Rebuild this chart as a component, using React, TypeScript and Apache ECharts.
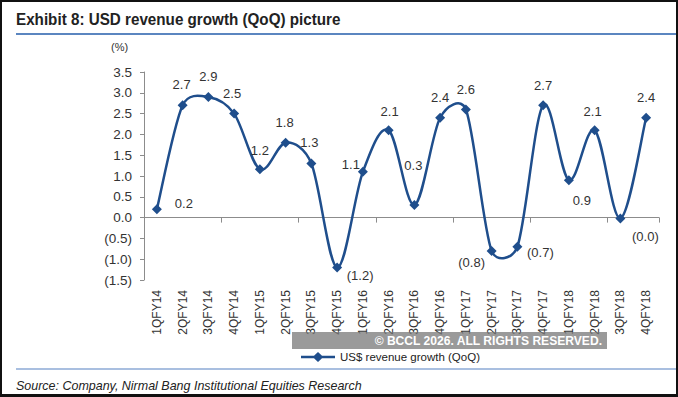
import React, { useEffect, useRef } from "react";
import * as echarts from "echarts";

const categories = [
  "1QFY14", "2QFY14", "3QFY14", "4QFY14", "1QFY15", "2QFY15", "3QFY15", "4QFY15",
  "1QFY16", "2QFY16", "3QFY16", "4QFY16", "1QFY17", "2QFY17", "3QFY17", "4QFY17",
  "1QFY18", "2QFY18", "3QFY18", "4QFY18",
];
const growth = [0.2, 2.7, 2.9, 2.5, 1.16, 1.8, 1.3, -1.2, 1.1, 2.1, 0.3, 2.4, 2.6, -0.8, -0.7, 2.7, 0.9, 2.1, -0.02, 2.4];
const labelOffsets: number[][] = [
  [27, -6], [-1, -21], [0, -20], [-2, -20], [0, -19], [-1, -20], [-2, -21], [23, 8],
  [-12, -7], [1, -19], [-1, -40], [0, -20], [0, -20], [-20, 12], [23, 6], [0, -20],
  [13, 20], [-2, -19], [25, 18], [0, -20],
];

const FONT = "'Liberation Sans', Arial, sans-serif";
const LINE = "#1f4e8c";
const LEGEND_ICON = "path://M0,3.8h13l4,-3.8l4,3.8h13v2.4h-13l-4,3.8l-4,-3.8h-13z";
const SERIES_NAME = "US$ revenue growth (QoQ)";

const fmt = (v: number) => {
  const s = Math.abs(v).toFixed(1);
  return v < 0 ? `(${s})` : s;
};

// Excel-like smooth curve through pixel points
function smoothPath(pts: number[][]): string {
  const n = pts.length;
  let d = `M${pts[0][0]},${pts[0][1]}`;
  for (let i = 0; i < n - 1; i++) {
    const p0 = pts[i - 1] || pts[i];
    const p1 = pts[i];
    const p2 = pts[i + 1];
    const p3 = pts[i + 2] || pts[i + 1];
    const seg = Math.hypot(p2[0] - p1[0], p2[1] - p1[1]);
    const t1x = p2[0] - p0[0], t1y = p2[1] - p0[1];
    const l1 = Math.hypot(t1x, t1y);
    const k1 = l1 > 0 ? Math.min(1 / 6, seg / 2 / l1) : 0;
    const t2x = p3[0] - p1[0], t2y = p3[1] - p1[1];
    const l2 = Math.hypot(t2x, t2y);
    const k2 = l2 > 0 ? Math.min(1 / 6, seg / 2 / l2) : 0;
    const c1 = [p1[0] + t1x * k1, p1[1] + t1y * k1];
    const c2 = [p2[0] - t2x * k2, p2[1] - t2y * k2];
    d += ` C${c1[0]},${c1[1]} ${c2[0]},${c2[1]} ${p2[0]},${p2[1]}`;
  }
  return d;
}

export default function App() {
  const ref = useRef<HTMLDivElement>(null);
  useEffect(() => {
    document.body.style.margin = "0";
    const chart = echarts.init(ref.current!, undefined, { renderer: "svg" });
    chart.setOption({
      animation: false,
      backgroundColor: "transparent",
      textStyle: { fontFamily: FONT },
      grid: { left: 144, right: 19, top: 72, bottom: 117, containLabel: false },
      xAxis: [
        {
          type: "category",
          data: categories,
          boundaryGap: true,
          axisLine: { onZero: true, lineStyle: { color: "#8c8c8c", width: 1 } },
          axisTick: { show: true, length: 5, lineStyle: { color: "#8c8c8c" } },
          axisLabel: { show: false },
        },
        {
          type: "category",
          data: categories,
          position: "bottom",
          boundaryGap: true,
          axisLine: { show: false, onZero: false },
          axisTick: { show: false },
          axisLabel: {
            rotate: 90,
            interval: 0,
            margin: 10,
            fontSize: 12,
            color: "#333",
            fontFamily: FONT,
          },
        },
      ],
      yAxis: {
        type: "value",
        min: -1.5,
        max: 3.5,
        interval: 0.5,
        splitLine: { show: false },
        axisLine: { show: true, lineStyle: { color: "#8c8c8c" } },
        axisTick: { show: true, length: 4, lineStyle: { color: "#8c8c8c" } },
        axisLabel: { formatter: fmt, fontSize: 13.5, color: "#333", margin: 12, fontFamily: FONT },
      },
      legend: {
        left: 301,
        top: 351,
        padding: 0,
        itemWidth: 34,
        itemHeight: 10,
        icon: LEGEND_ICON,
        itemStyle: { color: LINE, opacity: 1 },
        textStyle: { fontSize: 11.5, color: "#222", fontFamily: FONT },
        data: [{ name: SERIES_NAME }],
      },
      series: [
        {
          type: "custom",
          name: "curve",
          xAxisIndex: 0,
          z: 1,
          silent: true,
          data: growth.map((v, i) => [i, v]),
          encode: { x: 0, y: 1 },
          renderItem: (params: any, api: any) => {
            if (params.dataIndex !== 0) return null;
            const pts = growth.map((v, i) => api.coord([i, v]));
            return {
              type: "path",
              shape: { pathData: smoothPath(pts) },
              style: { stroke: LINE, lineWidth: 2.5, fill: "none" },
            };
          },
        },
        {
          name: SERIES_NAME,
          type: "line",
          xAxisIndex: 0,
          z: 2,
          symbol: "diamond",
          symbolSize: 10,
          lineStyle: { color: LINE, width: 0, opacity: 0 },
          itemStyle: { color: LINE },
          data: growth.map((v, i) => ({
            value: v,
            label: {
              show: true,
              position: "inside",
              offset: labelOffsets[i],
              formatter: () => fmt(v),
              fontSize: 13,
              color: "#333",
              fontFamily: FONT,
            },
          })),
        },
      ],
      graphic: [
        {
          type: "text",
          x: 16,
          y: 10,
          scaleX: 0.895,
          style: {
            text: "Exhibit 8: USD revenue growth (QoQ) picture",
            font: `bold 17px ${FONT}`,
            fill: "#222",
            verticalAlign: "top",
          },
        },
        {
          type: "line",
          shape: { x1: 16, y1: 34, x2: 676, y2: 34 },
          style: { stroke: "#5b86c0", lineWidth: 2 },
        },
        {
          type: "text",
          left: 111,
          top: 41,
          style: { text: "(%)", font: `11px ${FONT}`, fill: "#333" },
        },
        {
          type: "rect",
          z: 100,
          shape: { x: 292, y: 332, width: 315, height: 17 },
          style: { fill: "rgba(120,120,120,0.75)" },
        },
        {
          type: "text",
          z: 101,
          x: 602,
          y: 341,
          scaleX: 0.93,
          style: {
            text: "© BCCL 2026. ALL RIGHTS RESERVED.",
            font: `bold 13px ${FONT}`,
            fill: "#ffffff",
            align: "right",
            verticalAlign: "middle",
          },
        },
        {
          type: "line",
          shape: { x1: 16, y1: 369, x2: 676, y2: 369 },
          style: { stroke: "#a9bfe0", lineWidth: 2 },
        },
        {
          type: "text",
          x: 16,
          y: 385,
          scaleX: 0.96,
          style: {
            text: "Source: Company, Nirmal Bang Institutional Equities Research",
            font: `italic 13px ${FONT}`,
            fill: "#222",
            verticalAlign: "middle",
          },
        },
      ],
    });
    return () => chart.dispose();
  }, []);
  return (
    <div style={{ position: "fixed", left: 0, top: 0, width: 678, height: 397, background: "#111" }}>
      <div style={{ position: "absolute", left: 2, top: 2, width: 674, height: 392, background: "#fff" }} />
      <div ref={ref} style={{ position: "absolute", left: 0, top: 0, width: 678, height: 397 }} />
    </div>
  );
}
